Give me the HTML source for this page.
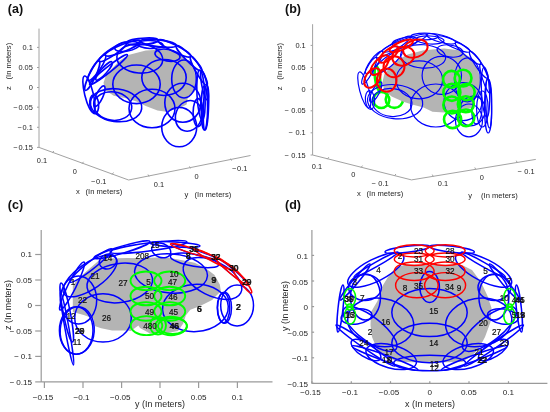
<!DOCTYPE html>
<html><head><meta charset="utf-8"><title>Figure</title>
<style>
html,body{margin:0;padding:0;background:#fff;}
svg{display:block;font-family:"Liberation Sans",sans-serif;}
</style></head><body>
<svg width="550" height="412" viewBox="0 0 550 412" fill="none">
<rect x="0" y="0" width="550" height="412" fill="#ffffff"/>
<text x="7.8" y="13.2" font-size="12.5" text-anchor="start" fill="#111" stroke="none" font-weight="bold">(a)</text>
<text x="285" y="13.2" font-size="12.5" text-anchor="start" fill="#111" stroke="none" font-weight="bold">(b)</text>
<text x="7.8" y="208.6" font-size="12.5" text-anchor="start" fill="#111" stroke="none" font-weight="bold">(c)</text>
<text x="285" y="208.6" font-size="12.5" text-anchor="start" fill="#111" stroke="none" font-weight="bold">(d)</text>
<line x1="39" y1="28.6" x2="39" y2="147.4" stroke="#a2a2a2" stroke-width="1.0"/>
<line x1="39" y1="147.4" x2="128.6" y2="180" stroke="#a2a2a2" stroke-width="1.0"/>
<line x1="128.6" y1="180" x2="250.5" y2="155.5" stroke="#a2a2a2" stroke-width="1.0"/>
<line x1="37" y1="47.4" x2="39" y2="47.4" stroke="#a2a2a2" stroke-width="1.0"/>
<line x1="37" y1="67.5" x2="39" y2="67.5" stroke="#a2a2a2" stroke-width="1.0"/>
<line x1="37" y1="87.5" x2="39" y2="87.5" stroke="#a2a2a2" stroke-width="1.0"/>
<line x1="37" y1="107.2" x2="39" y2="107.2" stroke="#a2a2a2" stroke-width="1.0"/>
<line x1="37" y1="127.3" x2="39" y2="127.3" stroke="#a2a2a2" stroke-width="1.0"/>
<line x1="37" y1="147.4" x2="39" y2="147.4" stroke="#a2a2a2" stroke-width="1.0"/>
<line x1="52.3" y1="153" x2="53.8" y2="151" stroke="#a2a2a2" stroke-width="1.0"/>
<line x1="82" y1="163.8" x2="83.5" y2="161.8" stroke="#a2a2a2" stroke-width="1.0"/>
<line x1="112" y1="174.5" x2="113.5" y2="172.5" stroke="#a2a2a2" stroke-width="1.0"/>
<line x1="149" y1="176.5" x2="148" y2="174.5" stroke="#a2a2a2" stroke-width="1.0"/>
<line x1="190.5" y1="168.4" x2="189.5" y2="166.4" stroke="#a2a2a2" stroke-width="1.0"/>
<line x1="231.6" y1="160.6" x2="230.6" y2="158.6" stroke="#a2a2a2" stroke-width="1.0"/>
<text x="32.8" y="50.0" font-size="7.4" text-anchor="end" fill="#262626" stroke="none" word-spacing="-1.3">0.1</text>
<text x="32.8" y="70.1" font-size="7.4" text-anchor="end" fill="#262626" stroke="none" word-spacing="-1.3">0.05</text>
<text x="32.8" y="90.1" font-size="7.4" text-anchor="end" fill="#262626" stroke="none" word-spacing="-1.3">0</text>
<text x="32.8" y="109.8" font-size="7.4" text-anchor="end" fill="#262626" stroke="none" word-spacing="-1.3">− 0.05</text>
<text x="32.8" y="129.9" font-size="7.4" text-anchor="end" fill="#262626" stroke="none" word-spacing="-1.3">− 0.1</text>
<text x="32.8" y="150.0" font-size="7.4" text-anchor="end" fill="#262626" stroke="none" word-spacing="-1.3">− 0.15</text>
<text x="42" y="163.29999999999998" font-size="7.4" text-anchor="middle" fill="#262626" stroke="none" word-spacing="-1.3">0.1</text>
<text x="74.7" y="173.6" font-size="7.4" text-anchor="middle" fill="#262626" stroke="none" word-spacing="-1.3">0</text>
<text x="98.7" y="184.2" font-size="7.4" text-anchor="middle" fill="#262626" stroke="none" word-spacing="-1.3">− 0.1</text>
<text x="159" y="186.6" font-size="7.4" text-anchor="middle" fill="#262626" stroke="none" word-spacing="-1.3">0.1</text>
<text x="196.5" y="178.6" font-size="7.4" text-anchor="middle" fill="#262626" stroke="none" word-spacing="-1.3">0</text>
<text x="239.7" y="171.0" font-size="7.4" text-anchor="middle" fill="#262626" stroke="none" word-spacing="-1.3">− 0.1</text>
<text x="76" y="193.6" font-size="7.6" text-anchor="start" fill="#262626" stroke="none">x</text>
<text x="85.5" y="193.6" font-size="7.6" text-anchor="start" fill="#262626" stroke="none">(In meters)</text>
<text x="184.5" y="197" font-size="7.6" text-anchor="start" fill="#262626" stroke="none">y</text>
<text x="194.5" y="197" font-size="7.6" text-anchor="start" fill="#262626" stroke="none">(In meters)</text>
<text x="10.9" y="90" font-size="7.6" text-anchor="start" fill="#262626" stroke="none" transform="rotate(-90 10.9 90)">z</text>
<text x="10.9" y="79.5" font-size="7.6" text-anchor="start" fill="#262626" stroke="none" transform="rotate(-90 10.9 79.5)">(In meters)</text>
<line x1="312.6" y1="24.2" x2="312.6" y2="155" stroke="#a2a2a2" stroke-width="1.0"/>
<line x1="312.6" y1="155" x2="411.5" y2="179.9" stroke="#a2a2a2" stroke-width="1.0"/>
<line x1="411.5" y1="179.9" x2="535.8" y2="159.4" stroke="#a2a2a2" stroke-width="1.0"/>
<line x1="310.6" y1="45.4" x2="312.6" y2="45.4" stroke="#a2a2a2" stroke-width="1.0"/>
<line x1="310.6" y1="67.5" x2="312.6" y2="67.5" stroke="#a2a2a2" stroke-width="1.0"/>
<line x1="310.6" y1="89.3" x2="312.6" y2="89.3" stroke="#a2a2a2" stroke-width="1.0"/>
<line x1="310.6" y1="110.8" x2="312.6" y2="110.8" stroke="#a2a2a2" stroke-width="1.0"/>
<line x1="310.6" y1="132.8" x2="312.6" y2="132.8" stroke="#a2a2a2" stroke-width="1.0"/>
<line x1="310.6" y1="155" x2="312.6" y2="155" stroke="#a2a2a2" stroke-width="1.0"/>
<line x1="327.3" y1="159.2" x2="328.8" y2="157.2" stroke="#a2a2a2" stroke-width="1.0"/>
<line x1="361" y1="167.6" x2="362.5" y2="165.6" stroke="#a2a2a2" stroke-width="1.0"/>
<line x1="394.4" y1="176" x2="395.9" y2="174" stroke="#a2a2a2" stroke-width="1.0"/>
<line x1="433.3" y1="176.6" x2="432.3" y2="174.6" stroke="#a2a2a2" stroke-width="1.0"/>
<line x1="475.8" y1="169.5" x2="474.8" y2="167.5" stroke="#a2a2a2" stroke-width="1.0"/>
<line x1="517.3" y1="162.7" x2="516.3" y2="160.7" stroke="#a2a2a2" stroke-width="1.0"/>
<text x="305.70000000000005" y="48.0" font-size="7.4" text-anchor="end" fill="#262626" stroke="none" word-spacing="0.5">0.1</text>
<text x="305.70000000000005" y="70.1" font-size="7.4" text-anchor="end" fill="#262626" stroke="none" word-spacing="0.5">0.05</text>
<text x="305.70000000000005" y="91.89999999999999" font-size="7.4" text-anchor="end" fill="#262626" stroke="none" word-spacing="0.5">0</text>
<text x="305.70000000000005" y="113.39999999999999" font-size="7.4" text-anchor="end" fill="#262626" stroke="none" word-spacing="0.5">− 0.05</text>
<text x="305.70000000000005" y="135.4" font-size="7.4" text-anchor="end" fill="#262626" stroke="none" word-spacing="0.5">− 0.1</text>
<text x="305.70000000000005" y="157.6" font-size="7.4" text-anchor="end" fill="#262626" stroke="none" word-spacing="0.5">− 0.15</text>
<text x="317" y="168.9" font-size="7.4" text-anchor="middle" fill="#262626" stroke="none" word-spacing="0.5">0.1</text>
<text x="353.3" y="177.1" font-size="7.4" text-anchor="middle" fill="#262626" stroke="none" word-spacing="0.5">0</text>
<text x="380" y="185.6" font-size="7.4" text-anchor="middle" fill="#262626" stroke="none" word-spacing="0.5">− 0.1</text>
<text x="443" y="185.79999999999998" font-size="7.4" text-anchor="middle" fill="#262626" stroke="none" word-spacing="0.5">0.1</text>
<text x="481.8" y="179.79999999999998" font-size="7.4" text-anchor="middle" fill="#262626" stroke="none" word-spacing="0.5">0</text>
<text x="526" y="173.5" font-size="7.4" text-anchor="middle" fill="#262626" stroke="none" word-spacing="0.5">− 0.1</text>
<text x="357" y="195.6" font-size="7.6" text-anchor="start" fill="#262626" stroke="none">x</text>
<text x="366.5" y="195.6" font-size="7.6" text-anchor="start" fill="#262626" stroke="none">(In meters)</text>
<text x="468.2" y="198" font-size="7.6" text-anchor="start" fill="#262626" stroke="none">y</text>
<text x="481.0" y="198" font-size="7.6" text-anchor="start" fill="#262626" stroke="none">(In meters)</text>
<text x="282.2" y="90.2" font-size="7.6" text-anchor="start" fill="#262626" stroke="none" transform="rotate(-90 282.2 90.2)">z</text>
<text x="282.2" y="79.7" font-size="7.6" text-anchor="start" fill="#262626" stroke="none" transform="rotate(-90 282.2 79.7)">(In meters)</text>
<line x1="41.2" y1="230" x2="41.2" y2="381.9" stroke="#9a9a9a" stroke-width="1.2"/>
<line x1="41.2" y1="381.9" x2="272.5" y2="381.9" stroke="#9a9a9a" stroke-width="1.2"/>
<line x1="35.2" y1="254.5" x2="41.2" y2="254.5" stroke="#9a9a9a" stroke-width="1.2"/>
<text x="31.900000000000002" y="257.4" font-size="8.1" text-anchor="end" fill="#262626" stroke="none" word-spacing="-0.6">0.1</text>
<line x1="35.2" y1="280" x2="41.2" y2="280" stroke="#9a9a9a" stroke-width="1.2"/>
<text x="31.900000000000002" y="282.9" font-size="8.1" text-anchor="end" fill="#262626" stroke="none" word-spacing="-0.6">0.05</text>
<line x1="35.2" y1="305.5" x2="41.2" y2="305.5" stroke="#9a9a9a" stroke-width="1.2"/>
<text x="31.900000000000002" y="308.4" font-size="8.1" text-anchor="end" fill="#262626" stroke="none" word-spacing="-0.6">0</text>
<line x1="35.2" y1="331" x2="41.2" y2="331" stroke="#9a9a9a" stroke-width="1.2"/>
<text x="31.900000000000002" y="333.9" font-size="8.1" text-anchor="end" fill="#262626" stroke="none" word-spacing="-0.6">− 0.05</text>
<line x1="35.2" y1="356.4" x2="41.2" y2="356.4" stroke="#9a9a9a" stroke-width="1.2"/>
<text x="31.900000000000002" y="359.29999999999995" font-size="8.1" text-anchor="end" fill="#262626" stroke="none" word-spacing="-0.6">− 0.1</text>
<line x1="35.2" y1="381.9" x2="41.2" y2="381.9" stroke="#9a9a9a" stroke-width="1.2"/>
<text x="31.900000000000002" y="384.79999999999995" font-size="8.1" text-anchor="end" fill="#262626" stroke="none" word-spacing="-0.6">− 0.15</text>
<line x1="44.4" y1="381.9" x2="44.4" y2="387.9" stroke="#9a9a9a" stroke-width="1.2"/>
<text x="43.0" y="399.9" font-size="8.1" text-anchor="middle" fill="#262626" stroke="none">−0.15</text>
<line x1="83" y1="381.9" x2="83" y2="387.9" stroke="#9a9a9a" stroke-width="1.2"/>
<text x="81.6" y="399.9" font-size="8.1" text-anchor="middle" fill="#262626" stroke="none">−0.1</text>
<line x1="121.6" y1="381.9" x2="121.6" y2="387.9" stroke="#9a9a9a" stroke-width="1.2"/>
<text x="120.19999999999999" y="399.9" font-size="8.1" text-anchor="middle" fill="#262626" stroke="none">−0.05</text>
<line x1="160" y1="381.9" x2="160" y2="387.9" stroke="#9a9a9a" stroke-width="1.2"/>
<text x="160" y="399.9" font-size="8.1" text-anchor="middle" fill="#262626" stroke="none">0</text>
<line x1="198.6" y1="381.9" x2="198.6" y2="387.9" stroke="#9a9a9a" stroke-width="1.2"/>
<text x="198.6" y="399.9" font-size="8.1" text-anchor="middle" fill="#262626" stroke="none">0.05</text>
<line x1="237.4" y1="381.9" x2="237.4" y2="387.9" stroke="#9a9a9a" stroke-width="1.2"/>
<text x="237.4" y="399.9" font-size="8.1" text-anchor="middle" fill="#262626" stroke="none">0.1</text>
<text x="160" y="406.6" font-size="8.9" text-anchor="middle" fill="#262626" stroke="none">y (In meters)</text>
<text x="10.6" y="305" font-size="8.9" text-anchor="middle" fill="#262626" stroke="none" transform="rotate(-90 10.6 305)">z (In meters)</text>
<line x1="311.9" y1="230" x2="311.9" y2="383.4" stroke="#9a9a9a" stroke-width="1.2"/>
<line x1="311.9" y1="383.4" x2="547.4" y2="383.4" stroke="#9a9a9a" stroke-width="1.2"/>
<line x1="311.9" y1="255.4" x2="314.09999999999997" y2="255.4" stroke="#9a9a9a" stroke-width="1.2"/>
<text x="308.09999999999997" y="258.9" font-size="8.1" text-anchor="end" fill="#262626" stroke="none" word-spacing="-0.6">0.1</text>
<line x1="311.9" y1="281" x2="314.09999999999997" y2="281" stroke="#9a9a9a" stroke-width="1.2"/>
<text x="308.09999999999997" y="284.5" font-size="8.1" text-anchor="end" fill="#262626" stroke="none" word-spacing="-0.6">0.05</text>
<line x1="311.9" y1="306.6" x2="314.09999999999997" y2="306.6" stroke="#9a9a9a" stroke-width="1.2"/>
<text x="308.09999999999997" y="310.1" font-size="8.1" text-anchor="end" fill="#262626" stroke="none" word-spacing="-0.6">0</text>
<line x1="311.9" y1="332.2" x2="314.09999999999997" y2="332.2" stroke="#9a9a9a" stroke-width="1.2"/>
<text x="308.09999999999997" y="335.7" font-size="8.1" text-anchor="end" fill="#262626" stroke="none" word-spacing="-0.6">−0.05</text>
<line x1="311.9" y1="357.8" x2="314.09999999999997" y2="357.8" stroke="#9a9a9a" stroke-width="1.2"/>
<text x="308.09999999999997" y="361.3" font-size="8.1" text-anchor="end" fill="#262626" stroke="none" word-spacing="-0.6">−0.1</text>
<line x1="311.9" y1="383.4" x2="314.09999999999997" y2="383.4" stroke="#9a9a9a" stroke-width="1.2"/>
<text x="308.09999999999997" y="386.9" font-size="8.1" text-anchor="end" fill="#262626" stroke="none" word-spacing="-0.6">−0.15</text>
<line x1="311.9" y1="381.2" x2="311.9" y2="383.4" stroke="#9a9a9a" stroke-width="1.2"/>
<text x="310.5" y="395.2" font-size="8.1" text-anchor="middle" fill="#262626" stroke="none">−0.15</text>
<line x1="351.3" y1="381.2" x2="351.3" y2="383.4" stroke="#9a9a9a" stroke-width="1.2"/>
<text x="349.90000000000003" y="395.2" font-size="8.1" text-anchor="middle" fill="#262626" stroke="none">−0.1</text>
<line x1="390.5" y1="381.2" x2="390.5" y2="383.4" stroke="#9a9a9a" stroke-width="1.2"/>
<text x="389.1" y="395.2" font-size="8.1" text-anchor="middle" fill="#262626" stroke="none">−0.05</text>
<line x1="429.8" y1="381.2" x2="429.8" y2="383.4" stroke="#9a9a9a" stroke-width="1.2"/>
<text x="429.8" y="395.2" font-size="8.1" text-anchor="middle" fill="#262626" stroke="none">0</text>
<line x1="469" y1="381.2" x2="469" y2="383.4" stroke="#9a9a9a" stroke-width="1.2"/>
<text x="469" y="395.2" font-size="8.1" text-anchor="middle" fill="#262626" stroke="none">0.05</text>
<line x1="508.5" y1="381.2" x2="508.5" y2="383.4" stroke="#9a9a9a" stroke-width="1.2"/>
<text x="508.5" y="395.2" font-size="8.1" text-anchor="middle" fill="#262626" stroke="none">0.1</text>
<text x="430" y="406.6" font-size="8.9" text-anchor="middle" fill="#262626" stroke="none">x (In meters)</text>
<text x="287.6" y="306" font-size="8.9" text-anchor="middle" fill="#262626" stroke="none" transform="rotate(-90 287.6 306)">y (In meters)</text>
<polygon points="72.8,285.7 76,281.4 83.7,273.7 92.5,266 100.1,259.5 105.6,258.4 127.4,258 140,258.2 161.9,257.3 172.8,258.4 183.7,260.6 194.6,262.8 205.6,268.3 214.3,274.8 219.8,284.6 220.9,291.2 216.5,295.6 212.1,300 205.6,303.2 199,306.5 190.3,309.8 185.9,315.2 183.2,323.4 178,331 165,333.5 150,333.5 140,328 138.4,325.6 130.8,331 126.3,330.4 112.1,330.4 101.2,328.3 94.6,326 93.5,318.4 83.7,315.1 72.8,311.9" fill="#b4b4b4" stroke="none"/>
<ellipse cx="107.9" cy="261.5" rx="8.8" ry="7.3" transform="rotate(-20 107.9 261.5)" stroke="#0000ff" stroke-width="1.5"/>
<ellipse cx="90" cy="276" rx="31.5" ry="13" transform="rotate(-34.5 90 276)" stroke="#0000ff" stroke-width="1.5"/>
<ellipse cx="119.8" cy="283" rx="33" ry="19.5" transform="rotate(-8 119.8 283)" stroke="#0000ff" stroke-width="1.5"/>
<ellipse cx="78.5" cy="300" rx="18.2" ry="24" stroke="#0000ff" stroke-width="1.5"/>
<ellipse cx="76.2" cy="330.5" rx="16.8" ry="23.7" stroke="#0000ff" stroke-width="1.5"/>
<ellipse cx="77.2" cy="330.5" rx="17" ry="23.7" transform="rotate(4 77.2 330.5)" stroke="#0000ff" stroke-width="1.5"/>
<ellipse cx="103" cy="317.9" rx="28.3" ry="24.2" stroke="#0000ff" stroke-width="1.5"/>
<ellipse cx="171" cy="273.5" rx="36.5" ry="19.5" transform="rotate(4 171 273.5)" stroke="#0000ff" stroke-width="1.5"/>
<ellipse cx="212.5" cy="278.5" rx="31.7" ry="17" transform="rotate(27 212.5 278.5)" stroke="#0000ff" stroke-width="1.5"/>
<ellipse cx="194.7" cy="260.4" rx="24.7" ry="6" transform="rotate(10 194.7 260.4)" stroke="#0000ff" stroke-width="1.5"/>
<ellipse cx="195.4" cy="308" rx="32.9" ry="23.6" transform="rotate(-3 195.4 308)" stroke="#0000ff" stroke-width="1.5"/>
<ellipse cx="237.1" cy="305.5" rx="16.4" ry="20.4" stroke="#0000ff" stroke-width="1.5"/>
<ellipse cx="223.5" cy="307.7" rx="6.2" ry="15" stroke="#0000ff" stroke-width="1.5"/>
<ellipse cx="224.5" cy="307.7" rx="7" ry="15.5" stroke="#0000ff" stroke-width="1.5"/>
<ellipse cx="161.2" cy="250.4" rx="9.8" ry="7" transform="rotate(20 161.2 250.4)" stroke="#0000ff" stroke-width="1.5"/>
<ellipse cx="67.0" cy="328.5" rx="37.07" ry="2" transform="rotate(79.9 67.0 328.5)" stroke="#0000ff" stroke-width="1.5"/>
<ellipse cx="66.75" cy="312.5" rx="30.06" ry="3.5" transform="rotate(79.0 66.75 312.5)" stroke="#0000ff" stroke-width="1.5"/>
<ellipse cx="72.0" cy="286.0" rx="26.83" ry="4" transform="rotate(-63.4 72.0 286.0)" stroke="#0000ff" stroke-width="1.5"/>
<ellipse cx="91.0" cy="265.5" rx="26.71" ry="4" transform="rotate(-38.2 91.0 265.5)" stroke="#0000ff" stroke-width="1.5"/>
<ellipse cx="122.0" cy="249.75" rx="29.19" ry="3.5" transform="rotate(-16.4 122.0 249.75)" stroke="#0000ff" stroke-width="1.5"/>
<ellipse cx="148.5" cy="247.0" rx="38.82" ry="4" transform="rotate(-7.4 148.5 247.0)" stroke="#0000ff" stroke-width="1.5"/>
<ellipse cx="175.0" cy="244.5" rx="25.04" ry="2.5" transform="rotate(3.4 175.0 244.5)" stroke="#0000ff" stroke-width="1.5"/>
<ellipse cx="194.0" cy="252.0" rx="23.09" ry="2.2" transform="rotate(17.7 194.0 252.0)" stroke="#0000ff" stroke-width="1.1"/>
<ellipse cx="231.75" cy="271.5" rx="21.83" ry="2.4" transform="rotate(39.9 231.75 271.5)" stroke="#0000ff" stroke-width="1.1"/>
<ellipse cx="193.25" cy="251.25" rx="23.88" ry="2.5" transform="rotate(17.7 193.25 251.25)" stroke="#ff0000" stroke-width="1.45"/>
<ellipse cx="215.25" cy="260.0" rx="23.26" ry="2.5" transform="rotate(26.8 215.25 260.0)" stroke="#ff0000" stroke-width="1.45"/>
<ellipse cx="231.75" cy="271.0" rx="21.83" ry="2.8" transform="rotate(39.9 231.75 271.0)" stroke="#ff0000" stroke-width="1.45"/>
<ellipse cx="242.5" cy="281.0" rx="15.0" ry="2.5" transform="rotate(53.1 242.5 281.0)" stroke="#ff0000" stroke-width="1.45"/>
<ellipse cx="146" cy="280.8" rx="15.5" ry="9.3" stroke="#00ff00" stroke-width="1.9"/>
<ellipse cx="146" cy="296" rx="15.5" ry="9.3" stroke="#00ff00" stroke-width="1.9"/>
<ellipse cx="146" cy="311.4" rx="15.5" ry="9.3" stroke="#00ff00" stroke-width="1.9"/>
<ellipse cx="169.7" cy="280.8" rx="15.5" ry="9.3" stroke="#00ff00" stroke-width="1.9"/>
<ellipse cx="169.7" cy="296" rx="15.5" ry="9.3" stroke="#00ff00" stroke-width="1.9"/>
<ellipse cx="169.7" cy="311.4" rx="15.5" ry="9.3" stroke="#00ff00" stroke-width="1.9"/>
<ellipse cx="146.5" cy="325.6" rx="15.8" ry="9.5" stroke="#00ff00" stroke-width="1.9"/>
<ellipse cx="158" cy="325.6" rx="8" ry="9" stroke="#00ff00" stroke-width="1.9"/>
<ellipse cx="171" cy="326" rx="15.8" ry="9.2" stroke="#00ff00" stroke-width="1.9"/>
<ellipse cx="172.5" cy="326" rx="14.5" ry="8" stroke="#00ff00" stroke-width="1.9"/>
<text x="107.8" y="260.5" font-size="8.2" text-anchor="middle" fill="#111" stroke="#111" stroke-width="0.2">14</text>
<text x="95" y="278.5" font-size="8.2" text-anchor="middle" fill="#111" stroke="#111" stroke-width="0.2">21</text>
<text x="123" y="286" font-size="8.2" text-anchor="middle" fill="#111" stroke="#111" stroke-width="0.2">27</text>
<text x="82.5" y="303" font-size="8.2" text-anchor="middle" fill="#111" stroke="#111" stroke-width="0.2">22</text>
<text x="71" y="319" font-size="8.2" text-anchor="middle" fill="#111" stroke="#111" stroke-width="0.2">12</text>
<text x="106.5" y="321" font-size="8.2" text-anchor="middle" fill="#111" stroke="#111" stroke-width="0.2">26</text>
<text x="80" y="334" font-size="8.2" text-anchor="middle" fill="#111" stroke="#111" stroke-width="0.2">29</text>
<text x="77" y="344.5" font-size="8.2" text-anchor="middle" fill="#111" stroke="#111" stroke-width="0.2">11</text>
<text x="148.5" y="285" font-size="8.2" text-anchor="middle" fill="#111" stroke="#111" stroke-width="0.2">5</text>
<text x="172.5" y="285" font-size="8.2" text-anchor="middle" fill="#111" stroke="#111" stroke-width="0.2">47</text>
<text x="174" y="277" font-size="8.2" text-anchor="middle" fill="#111" stroke="#111" stroke-width="0.2">10</text>
<text x="149.5" y="299" font-size="8.2" text-anchor="middle" fill="#111" stroke="#111" stroke-width="0.2">50</text>
<text x="173" y="299.5" font-size="8.2" text-anchor="middle" fill="#111" stroke="#111" stroke-width="0.2">46</text>
<text x="149.5" y="314.5" font-size="8.2" text-anchor="middle" fill="#111" stroke="#111" stroke-width="0.2">49</text>
<text x="173.5" y="315" font-size="8.2" text-anchor="middle" fill="#111" stroke="#111" stroke-width="0.2">45</text>
<text x="150" y="329" font-size="8.2" text-anchor="middle" fill="#111" stroke="#111" stroke-width="0.2">480</text>
<text x="174" y="329" font-size="8.2" text-anchor="middle" fill="#111" stroke="#111" stroke-width="0.2">46</text>
<text x="199" y="312" font-size="8.2" text-anchor="middle" fill="#111" stroke="#111" stroke-width="0.2">6</text>
<text x="213.5" y="283" font-size="8.2" text-anchor="middle" fill="#111" stroke="#111" stroke-width="0.2">9</text>
<text x="238" y="309.5" font-size="8.2" text-anchor="middle" fill="#111" stroke="#111" stroke-width="0.2">2</text>
<text x="188" y="259" font-size="8.2" text-anchor="middle" fill="#111" stroke="#111" stroke-width="0.2">8</text>
<text x="193.5" y="252" font-size="8.2" text-anchor="middle" fill="#111" stroke="#111" stroke-width="0.2">31</text>
<text x="215.5" y="259.5" font-size="8.2" text-anchor="middle" fill="#111" stroke="#111" stroke-width="0.2">32</text>
<text x="233.5" y="271" font-size="8.2" text-anchor="middle" fill="#111" stroke="#111" stroke-width="0.2">30</text>
<text x="246.5" y="285" font-size="8.2" text-anchor="middle" fill="#111" stroke="#111" stroke-width="0.2">29</text>
<text x="155" y="248" font-size="8.2" text-anchor="middle" fill="#111" stroke="#111" stroke-width="0.2">15</text>
<text x="140" y="259" font-size="8.2" text-anchor="middle" fill="#111" stroke="#111" stroke-width="0.2">20</text>
<text x="73" y="285" font-size="8.2" text-anchor="middle" fill="#111" stroke="#111" stroke-width="0.2">1</text>
<text x="146.8" y="259" font-size="8.2" text-anchor="middle" fill="#111" stroke="#111" stroke-width="0.2">8</text>
<text x="79.4" y="334" font-size="8.2" text-anchor="middle" fill="#111" stroke="#111" stroke-width="0.2">28</text>
<text x="214.2" y="283" font-size="8.2" text-anchor="middle" fill="#111" stroke="#111" stroke-width="0.2">9</text>
<text x="199.8" y="312" font-size="8.2" text-anchor="middle" fill="#111" stroke="#111" stroke-width="0.2">5</text>
<text x="238.7" y="309.5" font-size="8.2" text-anchor="middle" fill="#111" stroke="#111" stroke-width="0.2">2</text>
<text x="194.2" y="252" font-size="8.2" text-anchor="middle" fill="#111" stroke="#111" stroke-width="0.2">35</text>
<text x="216.1" y="259.5" font-size="8.2" text-anchor="middle" fill="#111" stroke="#111" stroke-width="0.2">32</text>
<text x="234.1" y="271" font-size="8.2" text-anchor="middle" fill="#111" stroke="#111" stroke-width="0.2">30</text>
<text x="247.1" y="285" font-size="8.2" text-anchor="middle" fill="#111" stroke="#111" stroke-width="0.2">29</text>
<text x="188.6" y="259" font-size="8.2" text-anchor="middle" fill="#111" stroke="#111" stroke-width="0.2">8</text>
<text x="174.7" y="329" font-size="8.2" text-anchor="middle" fill="#111" stroke="#111" stroke-width="0.2">46</text>
<polygon points="405,264.5 395,268.5 388,277 382.5,286 377.5,301 371,312 370.5,325 372,337 377.5,350 385,355.5 391,358.8 398,362 430,362.6 462,362 469,357.8 478,350 485,337 490.5,322 491.5,308 487.5,296 481,282 472,270 462,265" fill="#b4b4b4" stroke="none"/>
<ellipse cx="429.6" cy="287" rx="9.8" ry="15.5" stroke="#0000ff" stroke-width="1.5"/>
<ellipse cx="429.5" cy="312.6" rx="37.7" ry="24" stroke="#0000ff" stroke-width="1.5"/>
<ellipse cx="429.5" cy="343" rx="37.7" ry="19.7" stroke="#0000ff" stroke-width="1.5"/>
<ellipse cx="429.7" cy="363" rx="36" ry="7.7" stroke="#0000ff" stroke-width="1.5"/>
<ellipse cx="375.8" cy="270" rx="31" ry="11" transform="rotate(-27 375.8 270)" stroke="#0000ff" stroke-width="1.5"/>
<ellipse cx="483.6" cy="270" rx="31" ry="11" transform="rotate(27 483.6 270)" stroke="#0000ff" stroke-width="1.5"/>
<ellipse cx="365" cy="287.5" rx="16.4" ry="13" stroke="#0000ff" stroke-width="1.5"/>
<ellipse cx="494.4" cy="287.5" rx="16.4" ry="13" stroke="#0000ff" stroke-width="1.5"/>
<ellipse cx="365.5" cy="297" rx="15" ry="23" stroke="#0000ff" stroke-width="1.5"/>
<ellipse cx="493.9" cy="297" rx="15" ry="23" stroke="#0000ff" stroke-width="1.5"/>
<ellipse cx="380.7" cy="322.3" rx="33.3" ry="24" transform="rotate(10 380.7 322.3)" stroke="#0000ff" stroke-width="1.5"/>
<ellipse cx="478.7" cy="322.3" rx="33.3" ry="24" transform="rotate(-10 478.7 322.3)" stroke="#0000ff" stroke-width="1.5"/>
<ellipse cx="370" cy="329" rx="33" ry="12" transform="rotate(38 370 329)" stroke="#0000ff" stroke-width="1.5"/>
<ellipse cx="489.4" cy="329" rx="33" ry="12" transform="rotate(-38 489.4 329)" stroke="#0000ff" stroke-width="1.5"/>
<ellipse cx="356.5" cy="316.5" rx="15.5" ry="7.5" transform="rotate(-8 356.5 316.5)" stroke="#0000ff" stroke-width="1.5"/>
<ellipse cx="502.9" cy="316.5" rx="15.5" ry="7.5" transform="rotate(8 502.9 316.5)" stroke="#0000ff" stroke-width="1.5"/>
<ellipse cx="366" cy="350" rx="17" ry="7" transform="rotate(32 366 350)" stroke="#0000ff" stroke-width="1.5"/>
<ellipse cx="493.4" cy="350" rx="17" ry="7" transform="rotate(-32 493.4 350)" stroke="#0000ff" stroke-width="1.5"/>
<ellipse cx="391.2" cy="356.6" rx="26" ry="11.5" transform="rotate(15 391.2 356.6)" stroke="#0000ff" stroke-width="1.5"/>
<ellipse cx="468.2" cy="356.6" rx="26" ry="11.5" transform="rotate(-15 468.2 356.6)" stroke="#0000ff" stroke-width="1.5"/>
<ellipse cx="365.5" cy="345.5" rx="35.92" ry="3" transform="rotate(34.8 365.5 345.5)" stroke="#0000ff" stroke-width="1.5"/>
<ellipse cx="493.9" cy="345.5" rx="35.92" ry="3" transform="rotate(145.2 493.9 345.5)" stroke="#0000ff" stroke-width="1.5"/>
<ellipse cx="385.0" cy="358.0" rx="35.11" ry="3" transform="rotate(20.0 385.0 358.0)" stroke="#0000ff" stroke-width="1.5"/>
<ellipse cx="474.4" cy="358.0" rx="35.11" ry="3" transform="rotate(160.0 474.4 358.0)" stroke="#0000ff" stroke-width="1.5"/>
<ellipse cx="355.0" cy="282.0" rx="23.43" ry="2.6" transform="rotate(-50.2 355.0 282.0)" stroke="#0000ff" stroke-width="1.5"/>
<ellipse cx="504.4" cy="282.0" rx="23.43" ry="2.6" transform="rotate(-129.8 504.4 282.0)" stroke="#0000ff" stroke-width="1.5"/>
<ellipse cx="376.0" cy="264.5" rx="25.3" ry="2.2" transform="rotate(-29.6 376.0 264.5)" stroke="#0000ff" stroke-width="1.5"/>
<ellipse cx="483.4" cy="264.5" rx="25.3" ry="2.2" transform="rotate(-150.4 483.4 264.5)" stroke="#0000ff" stroke-width="1.5"/>
<ellipse cx="340.5" cy="308.5" rx="23.63" ry="2.5" transform="rotate(-83.9 340.5 308.5)" stroke="#0000ff" stroke-width="1.5"/>
<ellipse cx="518.9" cy="308.5" rx="23.63" ry="2.5" transform="rotate(-96.1 518.9 308.5)" stroke="#0000ff" stroke-width="1.5"/>
<ellipse cx="407.35" cy="249.25" rx="22.52" ry="3" transform="rotate(-7.0 407.35 249.25)" stroke="#0000ff" stroke-width="1.5"/>
<ellipse cx="452.05" cy="249.25" rx="22.52" ry="3" transform="rotate(-173.0 452.05 249.25)" stroke="#0000ff" stroke-width="1.5"/>
<ellipse cx="414.2" cy="250.8" rx="19.9" ry="6.1" stroke="#ff0000" stroke-width="1.45"/>
<ellipse cx="445.2" cy="250.8" rx="19.9" ry="6.1" stroke="#ff0000" stroke-width="1.45"/>
<ellipse cx="414.2" cy="259.2" rx="19.9" ry="6.3" stroke="#ff0000" stroke-width="1.45"/>
<ellipse cx="445.2" cy="259.2" rx="19.9" ry="6.3" stroke="#ff0000" stroke-width="1.45"/>
<ellipse cx="414.2" cy="271.2" rx="19.9" ry="9.3" stroke="#ff0000" stroke-width="1.45"/>
<ellipse cx="445.2" cy="271.2" rx="19.9" ry="9.3" stroke="#ff0000" stroke-width="1.45"/>
<ellipse cx="416.9" cy="285.2" rx="21.3" ry="12.6" stroke="#ff0000" stroke-width="1.45"/>
<ellipse cx="445.1" cy="285.2" rx="20.5" ry="12.6" stroke="#ff0000" stroke-width="1.45"/>
<ellipse cx="349.8" cy="297.5" rx="5.8" ry="9" stroke="#00ff00" stroke-width="1.6"/>
<ellipse cx="350.1" cy="315.7" rx="5.5" ry="8.5" stroke="#00ff00" stroke-width="1.6"/>
<ellipse cx="349.8" cy="307" rx="3" ry="3" stroke="#00ff00" stroke-width="1.6"/>
<ellipse cx="509.6" cy="297.5" rx="5.8" ry="9" stroke="#00ff00" stroke-width="1.6"/>
<ellipse cx="509.3" cy="315.7" rx="5.5" ry="8.5" stroke="#00ff00" stroke-width="1.6"/>
<ellipse cx="509.6" cy="307" rx="3" ry="3" stroke="#00ff00" stroke-width="1.6"/>
<text x="418.5" y="253.6" font-size="8.2" text-anchor="middle" fill="#111" stroke="#111" stroke-width="0.2">23</text>
<text x="418.5" y="262.4" font-size="8.2" text-anchor="middle" fill="#111" stroke="#111" stroke-width="0.2">31</text>
<text x="418.5" y="273.9" font-size="8.2" text-anchor="middle" fill="#111" stroke="#111" stroke-width="0.2">33</text>
<text x="418.5" y="289.29999999999995" font-size="8.2" text-anchor="middle" fill="#111" stroke="#111" stroke-width="0.2">35</text>
<text x="405" y="290.9" font-size="8.2" text-anchor="middle" fill="#111" stroke="#111" stroke-width="0.2">8</text>
<text x="378.5" y="272.9" font-size="8.2" text-anchor="middle" fill="#111" stroke="#111" stroke-width="0.2">4</text>
<text x="354.7" y="284.5" font-size="8.2" text-anchor="middle" fill="#111" stroke="#111" stroke-width="0.2">3</text>
<text x="362.3" y="301.29999999999995" font-size="8.2" text-anchor="middle" fill="#111" stroke="#111" stroke-width="0.2">7</text>
<text x="348.6" y="301.9" font-size="8.2" text-anchor="middle" fill="#111" stroke="#111" stroke-width="0.2">38</text>
<text x="349.4" y="301.9" font-size="8.2" text-anchor="middle" fill="#111" stroke="#111" stroke-width="0.2">39</text>
<text x="349.2" y="317.7" font-size="8.2" text-anchor="middle" fill="#111" stroke="#111" stroke-width="0.2">16</text>
<text x="350.4" y="317.7" font-size="8.2" text-anchor="middle" fill="#111" stroke="#111" stroke-width="0.2">13</text>
<text x="433.8" y="314.4" font-size="8.2" text-anchor="middle" fill="#111" stroke="#111" stroke-width="0.2">15</text>
<text x="400" y="258.7" font-size="8.2" text-anchor="middle" fill="#111" stroke="#111" stroke-width="0.2">2</text>
<text x="385.7" y="325.29999999999995" font-size="8.2" text-anchor="middle" fill="#111" stroke="#111" stroke-width="0.2">16</text>
<text x="450" y="253.6" font-size="8.2" text-anchor="middle" fill="#111" stroke="#111" stroke-width="0.2">28</text>
<text x="450" y="262.4" font-size="8.2" text-anchor="middle" fill="#111" stroke="#111" stroke-width="0.2">30</text>
<text x="450" y="273.9" font-size="8.2" text-anchor="middle" fill="#111" stroke="#111" stroke-width="0.2">32</text>
<text x="449.5" y="289.7" font-size="8.2" text-anchor="middle" fill="#111" stroke="#111" stroke-width="0.2">34</text>
<text x="459" y="290.9" font-size="8.2" text-anchor="middle" fill="#111" stroke="#111" stroke-width="0.2">9</text>
<text x="485.6" y="273.9" font-size="8.2" text-anchor="middle" fill="#111" stroke="#111" stroke-width="0.2">5</text>
<text x="504.2" y="301.29999999999995" font-size="8.2" text-anchor="middle" fill="#111" stroke="#111" stroke-width="0.2">10</text>
<text x="514" y="302.9" font-size="8.2" text-anchor="middle" fill="#111" stroke="#111" stroke-width="0.2">4</text>
<text x="519.5" y="302.9" font-size="8.2" text-anchor="middle" fill="#111" stroke="#111" stroke-width="0.2">44</text>
<text x="520.3" y="302.9" font-size="8.2" text-anchor="middle" fill="#111" stroke="#111" stroke-width="0.2">45</text>
<text x="514" y="317.7" font-size="8.2" text-anchor="middle" fill="#111" stroke="#111" stroke-width="0.2">5</text>
<text x="520" y="317.7" font-size="8.2" text-anchor="middle" fill="#111" stroke="#111" stroke-width="0.2">19</text>
<text x="520.8" y="317.7" font-size="8.2" text-anchor="middle" fill="#111" stroke="#111" stroke-width="0.2">18</text>
<text x="483.2" y="325.5" font-size="8.2" text-anchor="middle" fill="#111" stroke="#111" stroke-width="0.2">20</text>
<text x="509.2" y="284.2" font-size="8.2" text-anchor="middle" fill="#111" stroke="#111" stroke-width="0.2">7</text>
<text x="433.8" y="346.4" font-size="8.2" text-anchor="middle" fill="#111" stroke="#111" stroke-width="0.2">14</text>
<text x="434.3" y="366.9" font-size="8.2" text-anchor="middle" fill="#111" stroke="#111" stroke-width="0.2">13</text>
<text x="434.3" y="370.9" font-size="8.2" text-anchor="middle" fill="#111" stroke="#111" stroke-width="0.2">12</text>
<text x="389" y="354.7" font-size="8.2" text-anchor="middle" fill="#111" stroke="#111" stroke-width="0.2">17</text>
<text x="386.5" y="363.0" font-size="8.2" text-anchor="middle" fill="#111" stroke="#111" stroke-width="0.2">18</text>
<text x="390" y="363.2" font-size="8.2" text-anchor="middle" fill="#111" stroke="#111" stroke-width="0.2">0</text>
<text x="363.9" y="346.0" font-size="8.2" text-anchor="middle" fill="#111" stroke="#111" stroke-width="0.2">24</text>
<text x="370" y="335.09999999999997" font-size="8.2" text-anchor="middle" fill="#111" stroke="#111" stroke-width="0.2">2</text>
<text x="496.5" y="334.59999999999997" font-size="8.2" text-anchor="middle" fill="#111" stroke="#111" stroke-width="0.2">27</text>
<text x="479" y="354.7" font-size="8.2" text-anchor="middle" fill="#111" stroke="#111" stroke-width="0.2">21</text>
<text x="481.8" y="363.0" font-size="8.2" text-anchor="middle" fill="#111" stroke="#111" stroke-width="0.2">22</text>
<text x="482.8" y="363.0" font-size="8.2" text-anchor="middle" fill="#111" stroke="#111" stroke-width="0.2">22</text>
<text x="504.2" y="346.0" font-size="8.2" text-anchor="middle" fill="#111" stroke="#111" stroke-width="0.2">23</text>
<polygon points="103.53,82.68 106.44,73.94 113.73,66.65 119.56,60.82 128.31,54.99 145.8,50.61 166.21,49.15 179.33,52.07 186.62,59.36 193.91,69.56 196.82,82.68 194.78,91.43 188.08,96.38 186.62,104.55 180.79,107.46 166.21,111.84 157.46,110.38 145.8,106.01 137.06,101.63 128.31,98.72 113.73,95.8 104.99,89.97" fill="#b4b4b4" stroke="none"/>
<ellipse cx="136.5" cy="84.3" rx="23.7" ry="19.3" stroke="#0000ff" stroke-width="1.6"/>
<ellipse cx="164" cy="77.5" rx="22.2" ry="18" stroke="#0000ff" stroke-width="1.6"/>
<ellipse cx="139.8" cy="58.5" rx="23" ry="14.5" transform="rotate(5 139.8 58.5)" stroke="#0000ff" stroke-width="1.6"/>
<ellipse cx="184" cy="79" rx="12.3" ry="19" stroke="#0000ff" stroke-width="1.6"/>
<ellipse cx="116.1" cy="105.2" rx="25.8" ry="16.3" transform="rotate(8 116.1 105.2)" stroke="#0000ff" stroke-width="1.6"/>
<ellipse cx="112.8" cy="106.1" rx="19" ry="14.2" transform="rotate(8 112.8 106.1)" stroke="#0000ff" stroke-width="1.6"/>
<ellipse cx="152" cy="108.5" rx="23" ry="19.3" stroke="#0000ff" stroke-width="1.6"/>
<ellipse cx="182.8" cy="102.8" rx="18" ry="19.5" stroke="#0000ff" stroke-width="1.6"/>
<ellipse cx="179.2" cy="127.1" rx="17.5" ry="19.7" stroke="#0000ff" stroke-width="1.6"/>
<ellipse cx="188.7" cy="115.9" rx="13" ry="15.6" transform="rotate(20 188.7 115.9)" stroke="#0000ff" stroke-width="1.6"/>
<ellipse cx="167.5" cy="55.2" rx="12.7" ry="5.8" transform="rotate(10 167.5 55.2)" stroke="#0000ff" stroke-width="1.6"/>
<ellipse cx="204.4" cy="108" rx="3.2" ry="22" stroke="#0000ff" stroke-width="1.6"/>
<ellipse cx="198.1" cy="112.6" rx="5" ry="14" stroke="#0000ff" stroke-width="1.6"/>
<ellipse cx="201" cy="95" rx="4" ry="25" transform="rotate(-3 201 95)" stroke="#0000ff" stroke-width="1.6"/>
<ellipse cx="92.25" cy="75.75" rx="16.17" ry="3.2" transform="rotate(-64.9 92.25 75.75)" stroke="#0000ff" stroke-width="1.6"/>
<ellipse cx="96.75" cy="67.75" rx="15.19" ry="3.6" transform="rotate(-55.7 96.75 67.75)" stroke="#0000ff" stroke-width="1.6"/>
<ellipse cx="112.8" cy="51.85" rx="16.53" ry="3.4" transform="rotate(-34.0 112.8 51.85)" stroke="#0000ff" stroke-width="1.6"/>
<ellipse cx="122.95" cy="48.1" rx="19.02" ry="3.6" transform="rotate(-21.9 122.95 48.1)" stroke="#0000ff" stroke-width="1.6"/>
<ellipse cx="142.35" cy="41.4" rx="15.9" ry="3.2" transform="rotate(-4.3 142.35 41.4)" stroke="#0000ff" stroke-width="1.6"/>
<ellipse cx="158.4" cy="43.25" rx="17.94" ry="3.4" transform="rotate(7.2 158.4 43.25)" stroke="#0000ff" stroke-width="1.6"/>
<ellipse cx="174.45" cy="48.3" rx="18.16" ry="3.4" transform="rotate(26.5 174.45 48.3)" stroke="#0000ff" stroke-width="1.6"/>
<ellipse cx="188.9" cy="58.15" rx="17.93" ry="3.2" transform="rotate(44.9 188.9 58.15)" stroke="#0000ff" stroke-width="1.6"/>
<ellipse cx="198.8" cy="70.75" rx="16.48" ry="3" transform="rotate(60.6 198.8 70.75)" stroke="#0000ff" stroke-width="1.6"/>
<ellipse cx="204.45" cy="85.4" rx="14.88" ry="2.6" transform="rotate(79.0 204.45 85.4)" stroke="#0000ff" stroke-width="1.6"/>
<ellipse cx="205.95" cy="107.55" rx="22.47" ry="2.6" transform="rotate(92.4 205.95 107.55)" stroke="#0000ff" stroke-width="1.6"/>
<ellipse cx="89.0" cy="94.25" rx="18.8" ry="4.3" transform="rotate(76.1 89.0 94.25)" stroke="#0000ff" stroke-width="1.6"/>
<ellipse cx="94.2" cy="104.2" rx="4.4" ry="9.5" transform="rotate(-5 94.2 104.2)" stroke="#0000ff" stroke-width="1.6"/>
<ellipse cx="99.4" cy="96.2" rx="11.23" ry="3.5" transform="rotate(-65.3 99.4 96.2)" stroke="#0000ff" stroke-width="1.6"/>
<ellipse cx="108.5" cy="69.6" rx="24.07" ry="2.8" transform="rotate(-38.3 108.5 69.6)" stroke="#0000ff" stroke-width="1.6"/>
<ellipse cx="104.0" cy="71.0" rx="12.04" ry="3" transform="rotate(-48.4 104.0 71.0)" stroke="#0000ff" stroke-width="1.6"/>
<ellipse cx="127" cy="46.5" rx="12.4" ry="4.6" transform="rotate(-10 127 46.5)" stroke="#0000ff" stroke-width="1.6"/>
<ellipse cx="150" cy="44.5" rx="13" ry="4" transform="rotate(3 150 44.5)" stroke="#0000ff" stroke-width="1.6"/>
<ellipse cx="381.3" cy="100" rx="8" ry="8" stroke="#00ff00" stroke-width="2.6"/>
<ellipse cx="394.4" cy="99.2" rx="8.7" ry="8.7" stroke="#00ff00" stroke-width="2.6"/>
<ellipse cx="377.5" cy="78.0" rx="12.09" ry="2.5" transform="rotate(82.9 377.5 78.0)" stroke="#00ff00" stroke-width="2.6"/>
<polygon points="382.3177842565598,82.68221574344022 384.3586005830904,73.93586005830903 391.6472303206997,65.18950437317784 398.935860058309,59.35860058309038 407.6822157434402,54.40233236151603 423.71720116618076,50.32069970845481 444.1253644314869,48.57142857142857 458.7026239067055,50.32069970845481 468.9067055393586,56.44314868804665 477.65306122448976,68.10495626822157 481.1516034985423,82.68221574344022 479.69387755102036,91.42857142857143 474.73760932944606,100.17492711370262 473.27988338192415,107.46355685131195 461.6180758017493,110.96209912536443 444.1253644314869,112.4198250728863 432.463556851312,111.83673469387755 423.71720116618076,107.46355685131195 412.05539358600583,104.54810495626822 403.3090379008746,101.63265306122449 391.6472303206997,96.38483965014576 384.3586005830904,90.5539358600583" fill="#b4b4b4" stroke="none"/>
<ellipse cx="419.3" cy="79.8" rx="23.3" ry="19" stroke="#0000ff" stroke-width="1.2"/>
<ellipse cx="441.8" cy="75.4" rx="19.7" ry="19" stroke="#0000ff" stroke-width="1.2"/>
<ellipse cx="423.1" cy="56.4" rx="22.6" ry="11.7" transform="rotate(4 423.1 56.4)" stroke="#0000ff" stroke-width="1.2"/>
<ellipse cx="467.4" cy="79.8" rx="13" ry="22" stroke="#0000ff" stroke-width="1.2"/>
<ellipse cx="395.1" cy="101.7" rx="27.7" ry="17" transform="rotate(6 395.1 101.7)" stroke="#0000ff" stroke-width="1.2"/>
<ellipse cx="392" cy="102.5" rx="20" ry="14" transform="rotate(6 392 102.5)" stroke="#0000ff" stroke-width="1.2"/>
<ellipse cx="435.8" cy="105.5" rx="25.2" ry="21.5" stroke="#0000ff" stroke-width="1.2"/>
<ellipse cx="463" cy="101.6" rx="19" ry="19" stroke="#0000ff" stroke-width="1.2"/>
<ellipse cx="469" cy="120.4" rx="13.5" ry="16.4" stroke="#0000ff" stroke-width="1.2"/>
<ellipse cx="472" cy="111" rx="13" ry="15" transform="rotate(20 472 111)" stroke="#0000ff" stroke-width="1.2"/>
<ellipse cx="450" cy="51" rx="13" ry="6" transform="rotate(8 450 51)" stroke="#0000ff" stroke-width="1.2"/>
<ellipse cx="488.2" cy="106" rx="3.6" ry="27" stroke="#0000ff" stroke-width="1.2"/>
<ellipse cx="482.4" cy="109" rx="5.8" ry="18" stroke="#0000ff" stroke-width="1.2"/>
<ellipse cx="485.5" cy="92" rx="4" ry="25" transform="rotate(-3 485.5 92)" stroke="#0000ff" stroke-width="1.2"/>
<ellipse cx="477" cy="110" rx="5" ry="14" transform="rotate(4 477 110)" stroke="#0000ff" stroke-width="1.2"/>
<ellipse cx="369.25" cy="70.75" rx="15.05" ry="3.4" transform="rotate(-62.5 369.25 70.75)" stroke="#0000ff" stroke-width="1.2"/>
<ellipse cx="374.1" cy="62.4" rx="13.72" ry="3.8" transform="rotate(-53.3 374.1 62.4)" stroke="#0000ff" stroke-width="1.2"/>
<ellipse cx="393.45" cy="47.0" rx="20.14" ry="3.6" transform="rotate(-31.1 393.45 47.0)" stroke="#0000ff" stroke-width="1.2"/>
<ellipse cx="404.6" cy="43.1" rx="23.79" ry="3.8" transform="rotate(-20.4 404.6 43.1)" stroke="#0000ff" stroke-width="1.2"/>
<ellipse cx="424.3" cy="36.55" rx="13.6" ry="3.4" transform="rotate(-0.2 424.3 36.55)" stroke="#0000ff" stroke-width="1.2"/>
<ellipse cx="441.25" cy="38.75" rx="14.88" ry="3.6" transform="rotate(15.4 441.25 38.75)" stroke="#0000ff" stroke-width="1.2"/>
<ellipse cx="453.9" cy="44.0" rx="17.67" ry="3.6" transform="rotate(25.1 453.9 44.0)" stroke="#0000ff" stroke-width="1.2"/>
<ellipse cx="468.1" cy="53.35" rx="16.42" ry="3.4" transform="rotate(40.4 468.1 53.35)" stroke="#0000ff" stroke-width="1.2"/>
<ellipse cx="478.8" cy="64.8" rx="16.0" ry="3.2" transform="rotate(56.2 478.8 64.8)" stroke="#0000ff" stroke-width="1.2"/>
<ellipse cx="485.3" cy="78.5" rx="15.24" ry="2.8" transform="rotate(72.0 485.3 78.5)" stroke="#0000ff" stroke-width="1.2"/>
<ellipse cx="488.6" cy="103.05" rx="24.97" ry="2.8" transform="rotate(87.9 488.6 103.05)" stroke="#0000ff" stroke-width="1.2"/>
<ellipse cx="364.25" cy="90.0" rx="18.62" ry="4.6" transform="rotate(75.2 364.25 90.0)" stroke="#0000ff" stroke-width="1.2"/>
<ellipse cx="370" cy="100" rx="4.6" ry="9.5" transform="rotate(-5 370 100)" stroke="#0000ff" stroke-width="1.2"/>
<ellipse cx="375.75" cy="92.0" rx="11.29" ry="3.6" transform="rotate(-62.3 375.75 92.0)" stroke="#0000ff" stroke-width="1.2"/>
<ellipse cx="387.5" cy="62.5" rx="18.51" ry="5" transform="rotate(-38.4 387.5 62.5)" stroke="#0000ff" stroke-width="1.2"/>
<ellipse cx="405" cy="42" rx="13" ry="4.6" transform="rotate(-10 405 42)" stroke="#0000ff" stroke-width="1.2"/>
<ellipse cx="430" cy="40" rx="14" ry="4" transform="rotate(3 430 40)" stroke="#0000ff" stroke-width="1.2"/>
<ellipse cx="372.5" cy="78.0" rx="10.82" ry="6.8" transform="rotate(-56.3 372.5 78.0)" stroke="#ff0000" stroke-width="2.0"/>
<ellipse cx="379.75" cy="65.1" rx="12.28" ry="5.6" transform="rotate(-47.8 379.75 65.1)" stroke="#ff0000" stroke-width="2.0"/>
<ellipse cx="388.85" cy="54.5" rx="11.86" ry="4.8" transform="rotate(-38.0 388.85 54.5)" stroke="#ff0000" stroke-width="2.0"/>
<ellipse cx="401.2" cy="45.9" rx="12.67" ry="4" transform="rotate(-23.7 401.2 45.9)" stroke="#ff0000" stroke-width="2.0"/>
<ellipse cx="386.7" cy="80.2" rx="9.8" ry="11.6" stroke="#ff0000" stroke-width="2.0"/>
<ellipse cx="394" cy="66.7" rx="10.5" ry="10.5" stroke="#ff0000" stroke-width="2.0"/>
<ellipse cx="403.3" cy="56.2" rx="11.3" ry="9.2" transform="rotate(-20 403.3 56.2)" stroke="#ff0000" stroke-width="2.0"/>
<ellipse cx="415.4" cy="48.6" rx="12.6" ry="8.6" transform="rotate(-20 415.4 48.6)" stroke="#ff0000" stroke-width="2.0"/>
<ellipse cx="451.5" cy="79.3" rx="8.4" ry="8.4" stroke="#00ff00" stroke-width="2.6"/>
<ellipse cx="463.1" cy="78.1" rx="8.4" ry="8.4" stroke="#00ff00" stroke-width="2.6"/>
<ellipse cx="451.9" cy="92.4" rx="8.5" ry="8.5" stroke="#00ff00" stroke-width="2.6"/>
<ellipse cx="466.5" cy="91.9" rx="8.2" ry="8.2" stroke="#00ff00" stroke-width="2.6"/>
<ellipse cx="451.8" cy="105" rx="8.5" ry="8.5" stroke="#00ff00" stroke-width="2.6"/>
<ellipse cx="465.8" cy="104.3" rx="8" ry="8" stroke="#00ff00" stroke-width="2.6"/>
<ellipse cx="452.6" cy="119.5" rx="8.6" ry="8.6" stroke="#00ff00" stroke-width="2.6"/>
<ellipse cx="466" cy="117.8" rx="8.3" ry="8.3" stroke="#00ff00" stroke-width="2.6"/>
</svg>
</body></html>
